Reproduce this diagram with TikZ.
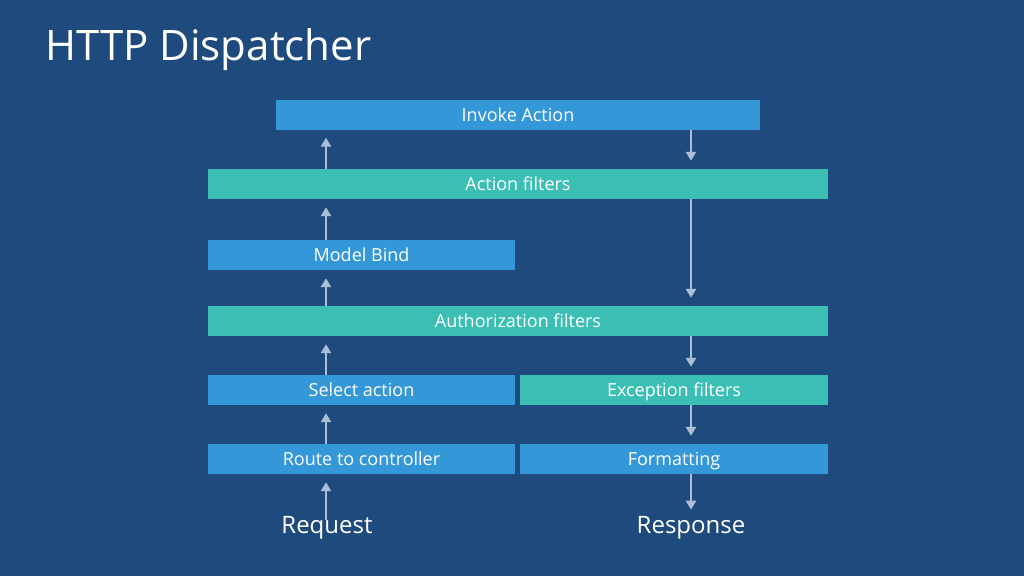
\documentclass[tikz,border=0pt]{standalone}
\usepackage{fontspec}
\setmainfont{Open Sans}
\usetikzlibrary{arrows.meta}
\definecolor{slidebg}{RGB}{31,74,125}
\definecolor{stepblue}{RGB}{52,151,215}
\definecolor{stepteal}{RGB}{59,190,179}
\definecolor{flowgray}{RGB}{172,190,214}
\tikzset{
  stage/.style={rectangle,inner sep=0pt,minimum height=30pt,text height=16pt,text depth=3pt,text=white,font=\fontsize{18}{20}\selectfont},
  bluestage/.style={stage,fill=stepblue},
  tealstage/.style={stage,fill=stepteal},
  flow/.style={draw=flowgray,line width=2.5pt,-{Triangle[length=9pt,width=10pt]},shorten >=8pt}
}
\begin{document}
\begin{tikzpicture}[x=1pt,y=-1pt]
		\fill[slidebg] (0,0) rectangle (1024,576);
		\useasboundingbox (0,0) rectangle (1024,576);
		\node [anchor=base west,text=white,font=\fontsize{42}{46}\selectfont,inner sep=0pt] at (45,60) (title) {HTTP Dispatcher};
		\node [bluestage,minimum width=484pt] at (518,114.5) (invoke) {Invoke Action};
		\node [tealstage,minimum width=620pt] at (518,184) (actf) {Action filters};
		\node [bluestage,minimum width=307pt] at (361.5,255) (bind) {Model Bind};
		\node [tealstage,minimum width=620pt] at (518,321) (authf) {Authorization filters};
		\node [bluestage,minimum width=307pt] at (361.5,390) (select) {Select action};
		\node [tealstage,minimum width=308pt] at (674,390) (excf) {Exception filters};
		\node [bluestage,minimum width=307pt] at (361.5,459) (route) {Route to controller};
		\node [bluestage,minimum width=308pt] at (674,459) (format) {Formatting};
		\node [text=white,font=\fontsize{24}{26}\selectfont,anchor=base,inner sep=0pt] at (327,533) (req) {Request};
		\node [text=white,font=\fontsize{24}{26}\selectfont,anchor=base,inner sep=0pt] at (691,533) (resp) {Response};
		\coordinate (lx) at (326,0);
		\coordinate (rx) at (691,0);
		% request path
		\draw [flow] ([yshift=-4pt]req.north -| lx) -- (route.south -| lx);
		\draw [flow] (route.north -| lx) -- (select.south -| lx);
		\draw [flow] (select.north -| lx) -- (authf.south -| lx);
		\draw [flow] (authf.north -| lx) -- (bind.south -| lx);
		\draw [flow] (bind.north -| lx) -- (actf.south -| lx);
		\draw [flow] (actf.north -| lx) -- (invoke.south -| lx);
		% response path
		\draw [flow] (invoke.south -| rx) -- (actf.north -| rx);
		\draw [flow] (actf.south -| rx) -- (authf.north -| rx);
		\draw [flow] (authf.south -| rx) -- (excf.north -| rx);
		\draw [flow] (excf.south -| rx) -- (format.north -| rx);
		\draw [flow] (format.south -| rx) -- ([yshift=-2pt]resp.north -| rx);
	\end{tikzpicture}
\end{document}
